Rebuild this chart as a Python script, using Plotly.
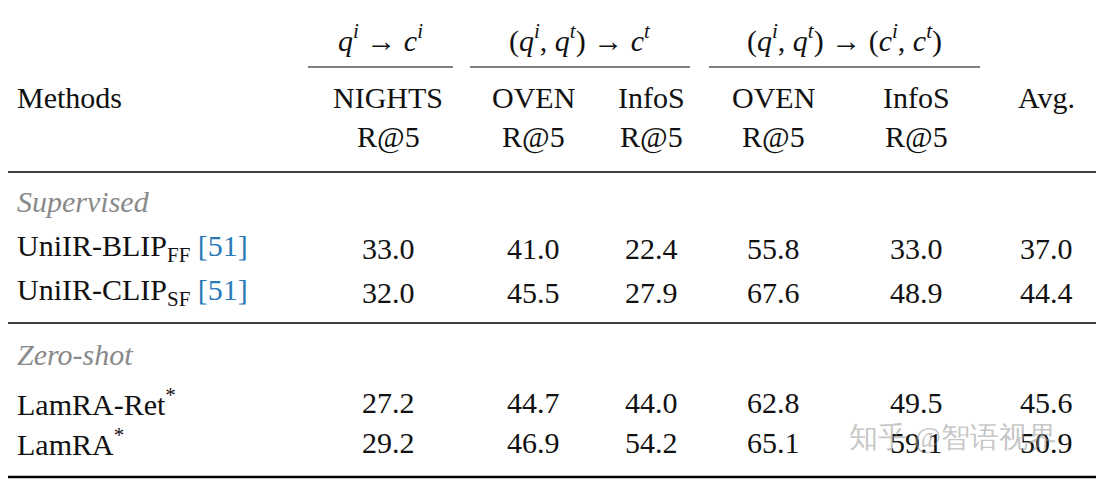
import plotly.graph_objects as go

# table content
groups = ["<i>q<sup>i</sup></i> → <i>c<sup>i</sup></i>",
          "(<i>q<sup>i</sup></i>, <i>q<sup>t</sup></i>) → <i>c<sup>t</sup></i>",
          "(<i>q<sup>i</sup></i>, <i>q<sup>t</sup></i>) → (<i>c<sup>i</sup></i>, <i>c<sup>t</sup></i>)"]
datasets = ["NIGHTS", "OVEN", "InfoS", "OVEN", "InfoS", "Avg."]
metrics = ["R@5", "R@5", "R@5", "R@5", "R@5", ""]
sections = ["Supervised", "Zero-shot"]
methods = ["UniIR-BLIP<sub>FF</sub> <span style='color:#2a7ab8'>[51]</span>",
           "UniIR-CLIP<sub>SF</sub> <span style='color:#2a7ab8'>[51]</span>",
           "LamRA-Ret<sup>*</sup>", "LamRA<sup>*</sup>"]
values = [
    [33.0, 41.0, 22.4, 55.8, 33.0, 37.0],
    [32.0, 45.5, 27.9, 67.6, 48.9, 44.4],
    [27.2, 44.7, 44.0, 62.8, 49.5, 45.6],
    [29.2, 46.9, 54.2, 65.1, 59.1, 50.9],
]

# layout positions (pixel space)
col_x = [390, 535, 653, 775, 918, 1048]
group_x = [382, 582, 846]
group_span = [(310, 455), (472, 692), (711, 982)]
row_y = [248, 292, 402, 442]
section_y = [201, 354]

FONT = "Liberation Serif"
fig = go.Figure()
ann = []

def txt(x, y, s, size=30, color="#111", anchor="center"):
    ann.append(dict(x=x, y=y, text=s, showarrow=False, xanchor=anchor,
                    yanchor="middle", font=dict(family=FONT, size=size, color=color)))

for gx, g in zip(group_x, groups):
    txt(gx, 38, g)
txt(17, 97, "Methods", anchor="left")
for cx, d, m in zip(col_x, datasets, metrics):
    txt(cx, 97, d)
    if m:
        txt(cx, 137, m)
for sy, s in zip(section_y, sections):
    txt(17, sy, "<i>" + s + "</i>", color="#8a8a8a", anchor="left")
for ry, m, vals in zip(row_y, methods, values):
    txt(17, ry, m, anchor="left")
    for cx, v in zip(col_x, vals):
        txt(cx, ry, f"{v:.1f}")
txt(955, 437, "知乎 @智语视界", size=29, color="rgba(150,150,150,0.55)")

shapes = []
def hline(x0, x1, y, w):
    shapes.append(dict(type="line", x0=x0, x1=x1, y0=y, y1=y,
                       line=dict(color="black", width=w)))
hline(0, 1120, 3, 2.5)
for a, b in group_span:
    hline(a, b, 67, 1.2)
hline(0, 1120, 172, 1.5)
hline(0, 1120, 323, 1.5)
hline(0, 1120, 477, 2.5)

fig.update_layout(
    width=1104, height=484, margin=dict(l=0, r=0, t=0, b=0),
    plot_bgcolor="white", paper_bgcolor="white",
    xaxis=dict(range=[10, 1114], visible=False, fixedrange=True),
    yaxis=dict(range=[492, 8], visible=False, fixedrange=True),
    annotations=ann, shapes=shapes, showlegend=False,
)
fig.write_html("out.html")
